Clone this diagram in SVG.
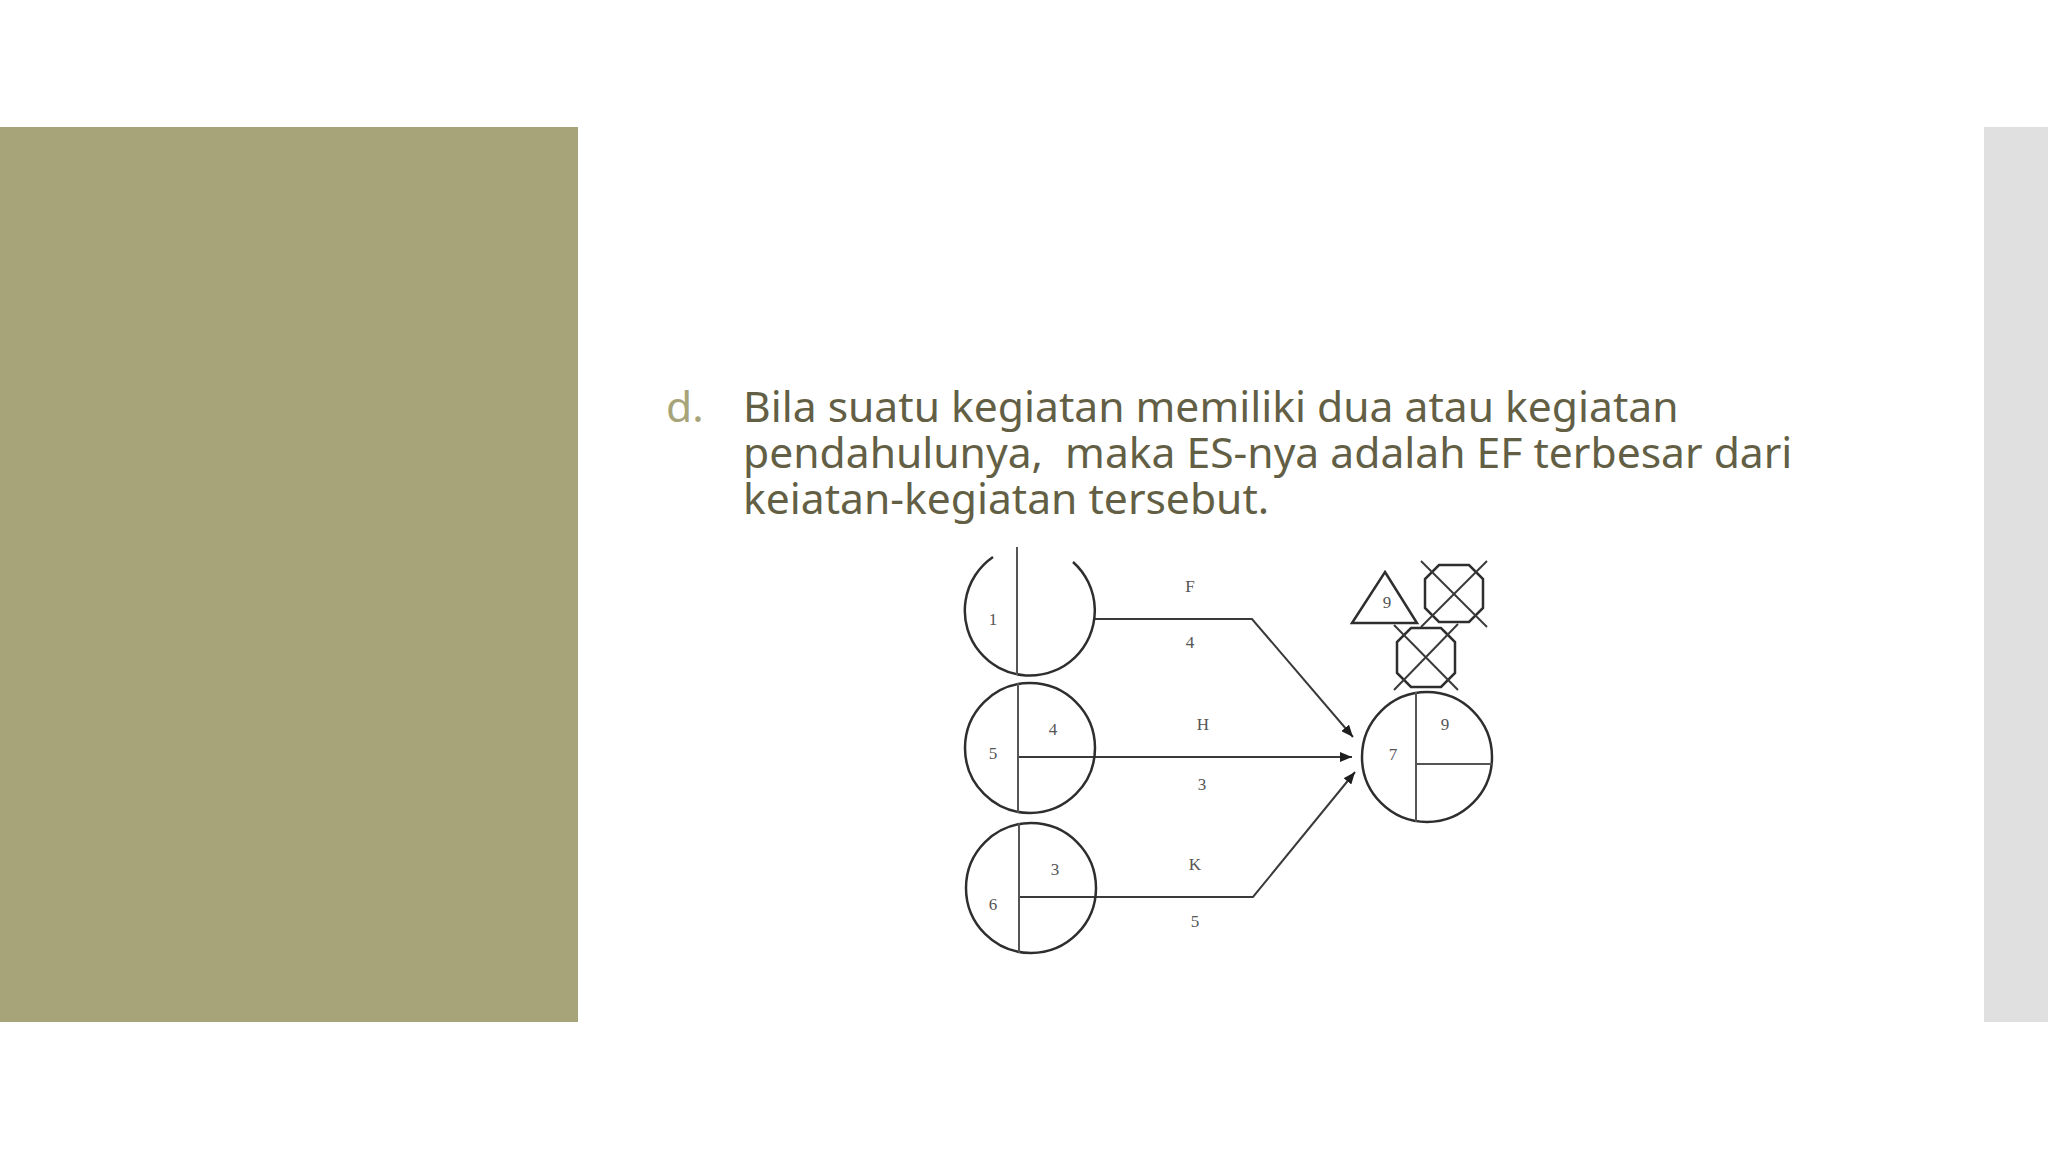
<svg xmlns="http://www.w3.org/2000/svg" width="2048" height="1152" viewBox="0 0 2048 1152">
<defs>
<style>
.body{font-family:"Noto Sans","Open Sans",sans-serif;font-size:42.6px;fill:#635f45;white-space:pre}
.num{font-family:"Noto Sans","Open Sans",sans-serif;font-size:42.6px;fill:#a7a47a}
.lbl{font-family:"Liberation Serif",serif;font-size:17px;fill:#555;text-anchor:middle}
.shape{fill:none;stroke:#2e2e2e;stroke-width:2.5}
.div{fill:none;stroke:#555;stroke-width:2}
.conn{fill:none;stroke:#3a3a3a;stroke-width:2}
</style>
<marker id="arr" viewBox="0 0 12 10" refX="12" refY="5" markerWidth="12" markerHeight="10" markerUnits="userSpaceOnUse" orient="auto">
<path d="M0,0 L12,5 L0,10 z" fill="#1e1e1e"/>
</marker>
</defs>
<rect width="2048" height="1152" fill="#ffffff"/>
<rect x="0" y="127" width="578" height="895" fill="#a7a47a"/>
<rect x="1984" y="127" width="64" height="895" fill="#e0e0e0"/>
<g id="text">
<text class="num" x="666" y="422">d.</text>
<text class="body" x="743" y="422">Bila suatu kegiatan memiliki dua atau kegiatan</text>
<text class="body" x="743" y="468">pendahulunya,  maka ES-nya adalah EF terbesar dari</text>
<text class="body" x="743" y="514">keiatan-kegiatan tersebut.</text>
</g>
<g id="connectors">
<polyline class="conn" points="1095,619 1252,619 1353,737" marker-end="url(#arr)"/>
<line class="conn" x1="1018" y1="757" x2="1352" y2="757" marker-end="url(#arr)"/>
<polyline class="conn" points="1019,897 1253,897 1355,772" marker-end="url(#arr)"/>
<text class="lbl" x="1190" y="592">F</text>
<text class="lbl" x="1190" y="648">4</text>
<text class="lbl" x="1203" y="730">H</text>
<text class="lbl" x="1202" y="790">3</text>
<text class="lbl" x="1195" y="870">K</text>
<text class="lbl" x="1195" y="927">5</text>
</g>
<g id="node1">
<path class="shape" d="M1073,562 A65,65 0 1 1 993,557"/>
<line class="div" x1="1017" y1="547" x2="1017" y2="675"/>
<text class="lbl" x="993" y="625">1</text>
</g>
<g id="node5">
<circle class="shape" cx="1030" cy="748" r="65"/>
<line class="div" x1="1018" y1="683" x2="1018" y2="813"/>
<text class="lbl" x="1053" y="735">4</text>
<text class="lbl" x="993" y="759">5</text>
</g>
<g id="node6">
<circle class="shape" cx="1031" cy="888" r="65"/>
<line class="div" x1="1019" y1="823" x2="1019" y2="953"/>
<text class="lbl" x="1055" y="875">3</text>
<text class="lbl" x="993" y="910">6</text>
</g>
<g id="node7">
<circle class="shape" cx="1427" cy="757" r="65"/>
<line class="div" x1="1416" y1="692" x2="1416" y2="822"/>
<line class="div" x1="1416" y1="764" x2="1492" y2="764"/>
<text class="lbl" x="1445" y="730">9</text>
<text class="lbl" x="1393" y="760">7</text>
</g>
<g id="triangle">
<polygon class="shape" points="1385,572 1417,623 1352,623"/>
<text class="lbl" x="1387" y="608">9</text>
</g>
<g id="octagon1">
<polygon class="shape" points="1439,565 1469,565 1483,579 1483,608 1469,622 1439,622 1425,608 1425,579"/>
<line class="conn" x1="1421" y1="561" x2="1487" y2="627"/>
<line class="conn" x1="1487" y1="561" x2="1421" y2="627"/>
</g>
<g id="octagon2">
<polygon class="shape" points="1411,628 1441,628 1455,642 1455,673 1441,687 1411,687 1397,673 1397,642"/>
<line class="conn" x1="1394" y1="625" x2="1458" y2="690"/>
<line class="conn" x1="1458" y1="624" x2="1394" y2="690"/>
</g>
</svg>
